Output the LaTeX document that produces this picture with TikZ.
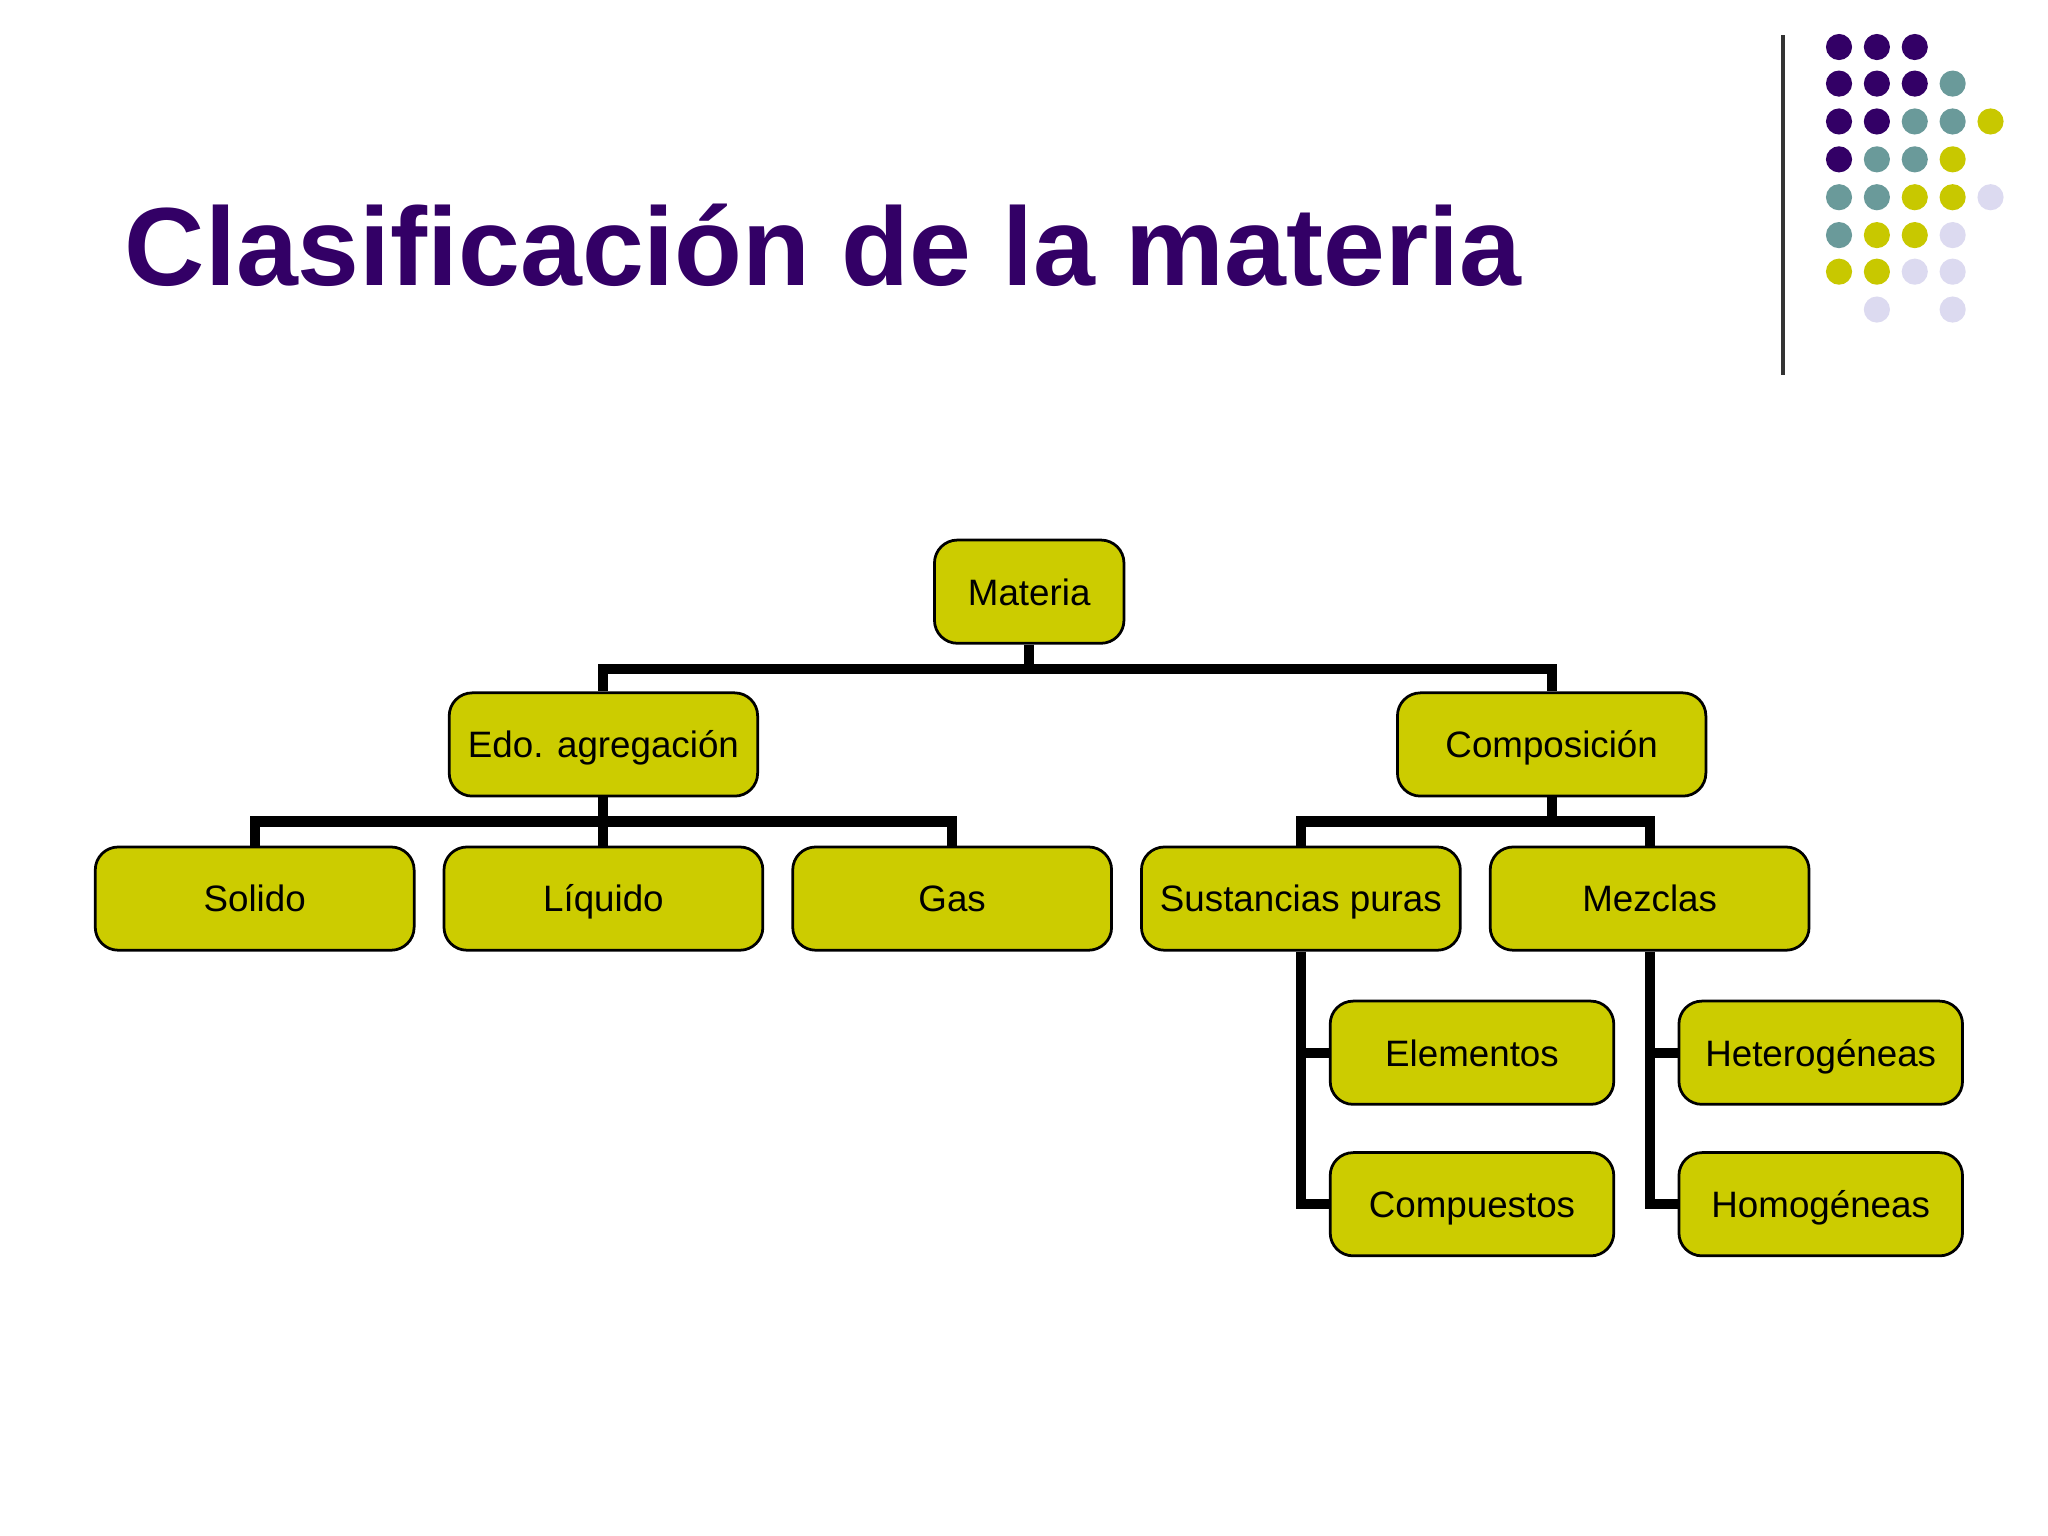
\documentclass[tikz,border=0pt]{standalone}
\usepackage{fontspec}
\setmainfont{Liberation Sans}
\begin{document}
\begin{tikzpicture}[x=0.01cm,y=-0.01cm,
 box/.style={draw=black,fill=boxy,rounded corners=5pt,minimum height=0.79cm,font=\fontsize{8}{9}\selectfont,inner sep=0pt,text height=1.5ex,text depth=0.4ex,line width=0.6pt},
 conn/.style={line width=2.2pt,black}]
\definecolor{boxy}{HTML}{CCCC00}
\definecolor{dp}{HTML}{330066}
\definecolor{dt}{HTML}{6A9A9A}
\definecolor{dy}{HTML}{C8C800}
\definecolor{dl}{HTML}{DCDAF0}
\useasboundingbox (0,0) rectangle (1568,1176);
\fill[white] (0,0) rectangle (1568,1176);
\node[anchor=west,text=dp,font=\fontsize{24.2}{28}\selectfont\bfseries,inner sep=0pt] (title) at (95,188) {Clasificación de la materia};
\draw[line width=0.8pt,black!80] (1365,27) -- (1365,287);
% dots
\foreach \r/\cols in {36/{dp,dp,dp},64/{dp,dp,dp,dt},93/{dp,dp,dt,dt,dy},122/{dp,dt,dt,dy},151/{dt,dt,dy,dy,dl},180/{dt,dy,dy,dl},208/{dy,dy,dl,dl}}{
 \foreach \c [count=\i from 0] in \cols { \fill[\c] (1408+29*\i,\r) circle (0.1cm); } }
\fill[dl] (1437,237) circle (0.1cm);
\fill[dl] (1495,237) circle (0.1cm);
% nodes
\node[box,minimum width=1.45cm] (mat) at (788,453) {Materia};
\node[box,minimum width=2.36cm] (edo) at (462,570) {Edo. agregación};
\node[box,minimum width=2.36cm] (com) at (1188,570) {Composición};
\foreach \n/\x/\t in {sol/195/Solido,liq/462/Líquido,gas/729/Gas,sus/996/Sustancias puras,mez/1263/Mezclas}
 \node[box,minimum width=2.44cm] (\n) at (\x,688) {\t};
\node[box,minimum width=2.17cm] (ele) at (1127,806) {Elementos};
\node[box,minimum width=2.17cm] (cmp) at (1127,922) {Compuestos};
\node[box,minimum width=2.17cm] (het) at (1394,806) {Heterogéneas};
\node[box,minimum width=2.17cm] (hom) at (1394,922) {Homogéneas};
% connectors
\coordinate (j1) at (788,512);
\coordinate (j2) at (462,629);
\coordinate (j3) at (1188,629);
\draw[conn] (mat.south) -- (j1);
\draw[conn] (j1) -| (edo.north);
\draw[conn] (j1) -| (com.north);
\draw[conn] (edo.south) -- (j2);
\draw[conn] (j2) -| (sol.north);
\draw[conn] (j2) -- (liq.north);
\draw[conn] (j2) -| (gas.north);
\draw[conn] (com.south) -- (j3);
\draw[conn] (j3) -| (sus.north);
\draw[conn] (j3) -| (mez.north);
\draw[conn] (sus.south) |- (cmp.west);
\draw[conn] (sus.south |- ele.west) -- (ele.west);
\draw[conn] (mez.south) |- (hom.west);
\draw[conn] (mez.south |- het.west) -- (het.west);
\end{tikzpicture}
\end{document}
